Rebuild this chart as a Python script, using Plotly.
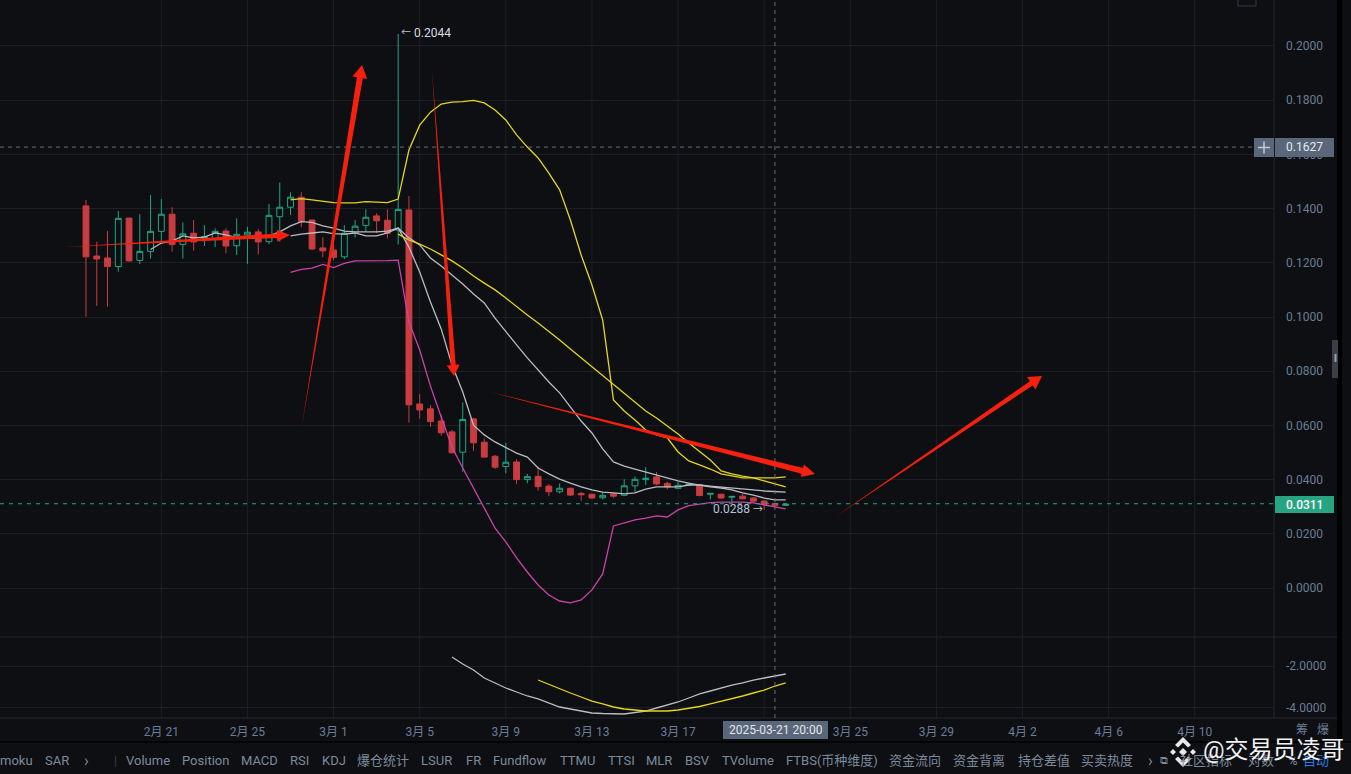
import math
import pandas as pd
import plotly.graph_objects as go

W, H = 1351, 774

# ---------- data ----------
dates = pd.date_range("2025-02-17 20:00", periods=66, freq="12h")

opens = [0.1410,0.1225,0.1218,0.1186,0.1365,0.1209,0.1242,0.1316,0.1379,0.1268,0.1309,0.1288,0.1290,0.1317,0.1263,0.1303,0.1314,0.1278,0.1370,0.1405,
         0.1442,0.1358,0.1255,0.1247,0.1222,0.1309,0.1338,0.1373,0.1357,0.1321,0.1395,0.0679,0.0661,0.0616,0.0576,0.0501,0.0624,0.0538,0.0486,0.0448,
         0.0465,0.0400,0.0412,0.0376,0.0355,0.0368,0.0349,0.0346,0.0333,0.0347,0.0342,0.0377,0.0400,0.0410,0.0386,0.0368,0.0380,0.0379,0.0346,0.0346,
         0.0335,0.0339,0.0332,0.0321,0.0312,0.0305]
closes = [0.1222,0.1214,0.1186,0.1364,0.1207,0.1242,0.1316,0.1379,0.1267,0.1307,0.1277,0.1297,0.1316,0.1262,0.1305,0.1313,0.1277,0.1375,0.1405,0.1442,
          0.1353,0.1251,0.1244,0.1220,0.1309,0.1335,0.1368,0.1355,0.1309,0.1397,0.0676,0.0657,0.0614,0.0573,0.0499,0.0622,0.0536,0.0483,0.0446,0.0464,
          0.0400,0.0411,0.0374,0.0355,0.0368,0.0343,0.0344,0.0332,0.0342,0.0339,0.0377,0.0401,0.0405,0.0384,0.0373,0.0379,0.0383,0.0341,0.0349,0.0332,
          0.0338,0.0329,0.0320,0.0309,0.0305,0.0309]
highs = [0.1432,0.1278,0.1317,0.1391,0.1365,0.1379,0.1450,0.1435,0.1405,0.1349,0.1358,0.1339,0.1327,0.1327,0.1364,0.1333,0.1324,0.1417,0.1496,0.1460,
         0.1460,0.1358,0.1294,0.1282,0.1339,0.1358,0.1397,0.1383,0.1397,0.2044,0.1446,0.0716,0.0675,0.0640,0.0583,0.0685,0.0628,0.0552,0.0491,0.0536,
         0.0475,0.0421,0.0448,0.0384,0.0386,0.0370,0.0355,0.0348,0.0353,0.0350,0.0401,0.0411,0.0446,0.0428,0.0392,0.0392,0.0386,0.0380,0.0350,0.0348,
         0.0339,0.0347,0.0335,0.0324,0.0315,0.0312]
lows = [0.1001,0.1041,0.1038,0.1167,0.1204,0.1196,0.1215,0.1278,0.1241,0.1215,0.1245,0.1262,0.1258,0.1235,0.1229,0.1196,0.1231,0.1269,0.1278,0.1376,
        0.1331,0.1247,0.1220,0.1210,0.1214,0.1293,0.1315,0.1309,0.1290,0.1267,0.0610,0.0625,0.0595,0.0562,0.0497,0.0429,0.0506,0.0481,0.0439,0.0423,
        0.0383,0.0386,0.0359,0.0339,0.0349,0.0339,0.0322,0.0330,0.0327,0.0332,0.0339,0.0355,0.0380,0.0380,0.0364,0.0366,0.0376,0.0339,0.0327,0.0330,
        0.0316,0.0328,0.0318,0.0288,0.0298,0.0303]

ma_short = [None]*6 + [0.1249,0.1273,0.1280,0.1299,0.1292,0.1295,0.1310,0.1303,0.1293,0.1292,0.1292,0.1299,0.1314,0.1336,0.1352,0.1349,0.1336,0.1328,
    0.1317,0.1314,0.1314,0.1314,0.1317,0.1328,0.1258,0.1166,0.1055,0.0956,0.0823,0.0723,0.0601,0.0565,0.0539,0.0517,0.0498,0.0483,0.0443,0.0421,
    0.0402,0.0387,0.0373,0.0362,0.0354,0.0351,0.0347,0.0351,0.0365,0.0373,0.0373,0.0373,0.0380,0.0380,0.0373,0.0369,0.0362,0.0351,0.0343,0.0332,0.0325,0.0325]
ma_long = [None]*19 + [0.1299,0.1306,0.1310,0.1314,0.1308,0.1306,0.1310,0.1299,0.1299,0.1310,0.1328,0.1292,0.1266,0.1218,0.1188,0.1155,0.1122,0.1085,
    0.1052,0.0996,0.0945,0.0897,0.0849,0.0804,0.0760,0.0720,0.0668,0.0616,0.0572,0.0513,0.0465,0.0450,0.0439,0.0428,0.0417,0.0406,0.0395,0.0387,
    0.0380,0.0376,0.0373,0.0369,0.0365,0.0362,0.0358,0.0356,0.0354]
band_upper = [None]*19 + [0.1432,0.1437,0.1432,0.1426,0.1422,0.1421,0.1421,0.1426,0.1424,0.1422,0.1435,0.1616,0.1708,0.1756,0.1786,0.1793,0.1795,0.1799,
    0.1790,0.1764,0.1727,0.1672,0.1627,0.1587,0.1531,0.1469,0.1358,0.1229,0.1118,0.0989,0.0694,0.0653,0.0620,0.0583,0.0565,0.0554,0.0502,0.0469,
    0.0454,0.0439,0.0421,0.0413,0.0406,0.0406,0.0406,0.0406,0.0410]
band_lower = [None]*19 + [0.1165,0.1176,0.1180,0.1194,0.1182,0.1198,0.1207,0.1207,0.1208,0.1208,0.1210,0.0982,0.0878,0.0745,0.0631,0.0520,0.0443,0.0369,
    0.0295,0.0221,0.0170,0.0111,0.0059,0.0011,-0.0026,-0.0048,-0.0055,-0.0044,-0.0007,0.0052,0.0229,0.0240,0.0251,0.0258,0.0266,0.0262,0.0288,0.0304,
    0.0310,0.0315,0.0317,0.0318,0.0317,0.0314,0.0306,0.0299,0.0292]
yellow_mid = [None]*29 + [0.1306,0.1284,0.1269,0.1251,0.1229,0.1207,0.1181,0.1151,0.1125,0.1100,0.1070,0.1037,0.1007,0.0978,0.0948,0.0915,0.0882,0.0849,
    0.0815,0.0782,0.0749,0.0716,0.0683,0.0653,0.0627,0.0598,0.0568,0.0535,0.0502,0.0472,0.0432,0.0421,0.0413,0.0406,0.0395,0.0384,0.0373]

sub_white = [None]*34 + [-1.566,-1.904,-2.193,-2.578,-2.819,-3.060,-3.253,-3.446,-3.590,-3.783,-3.976,-4.072,-4.169,-4.265,-4.289,-4.313,-4.313,-4.241,
    -4.169,-4.024,-3.880,-3.735,-3.542,-3.349,-3.205,-3.060,-2.916,-2.819,-2.675,-2.578,-2.482,-2.386]
sub_yellow = [None]*42 + [-2.675,-2.892,-3.108,-3.301,-3.494,-3.687,-3.831,-3.976,-4.072,-4.120,-4.169,-4.169,-4.169,-4.120,-4.048,-3.952,-3.831,-3.711,
    -3.590,-3.446,-3.301,-3.157,-2.964,-2.819]

x_tick_dates = ["2025-02-21 08:00","2025-02-25 08:00","2025-03-01 08:00","2025-03-05 08:00","2025-03-09 08:00","2025-03-13 08:00","2025-03-17 08:00",
                "2025-03-25 08:00","2025-03-29 08:00","2025-04-02 08:00","2025-04-06 08:00","2025-04-10 08:00"]
x_tick_labels = ["2月 21","2月 25","3月 1","3月 5","3月 9","3月 13","3月 17","3月 25","3月 29","4月 2","4月 6","4月 10"]
grid_dates = x_tick_dates + ["2025-03-21 08:00"]
y_ticks = [0.0,0.02,0.04,0.06,0.08,0.10,0.12,0.14,0.16,0.18,0.20]
y_labels = ["0.0000","0.0200","0.0400","0.0600","0.0800","0.1000","0.1200","0.1400","0.1600","0.1800","0.2000"]
sub_ticks = [-2,-4]
sub_labels = ["-2.0000","-4.0000"]

last_price = 0.0311
cross_price = 0.1627
cross_time = "2025-03-21 20:00"
high_price = 0.2044
low_price = 0.0288

toolbar = [("moku",0),("SAR",45),("Volume",126),("Position",182),("MACD",241),("RSI",290),("KDJ",322),("爆仓统计",357),("LSUR",421),("FR",466),
           ("Fundflow",493),("TTMU",560),("TTSI",608),("MLR",646),("BSV",685),("TVolume",722),("FTBS(币种维度)",786),("资金流向",889),("资金背离",953),
           ("持仓差值",1018),("买卖热度",1081),("社区指标",1180),("对数",1248),("%",1288)]

# (tail x, tail y, tip x, tip y, shaft width, head width, head length) in page pixels
arrows = [(65,247,290,235,4.5,12,13),
          (302,425,362,65,6,15,13),
          (432,70,454,376,5,13,11),
          (490,392,815,474,6,13,13),
          (835,517,1042,376,5,15,13)]

# ---------- style ----------
BG = "#0d0f12"; GRID = "#1c1f23"; AXIS = "#24272c"
GREEN = "#21a586"; RED = "#c93c40"; TXT = "#6c7d99"; TOOL = "#7e8a9c"
WHITE_LINE = "#b9bcc1"; YELLOW = "#e6d51f"; MAGENTA = "#cc42a8"
FONT = "Roboto, 'Noto Sans CJK SC', sans-serif"
PLOT_R = 1274
MAIN_BOTTOM, SUB_BOTTOM = 637, 718

def px(x): return x / W
def py(y): return 1 - y / H

fig = go.Figure()
fig.add_trace(go.Candlestick(x=dates, open=opens, high=highs, low=lows, close=closes, whiskerwidth=0,
    increasing=dict(line=dict(color=GREEN, width=1), fillcolor=BG),
    decreasing=dict(line=dict(color=RED, width=1), fillcolor=RED), hoverinfo="skip", xaxis="x", yaxis="y"))
for name, vals, col in [("MA", ma_short, WHITE_LINE), ("MA long", ma_long, WHITE_LINE), ("Upper", band_upper, YELLOW),
                        ("Lower", band_lower, MAGENTA), ("Mid", yellow_mid, YELLOW)]:
    fig.add_trace(go.Scatter(x=dates, y=vals, mode="lines", name=name, line=dict(color=col, width=1.3), hoverinfo="skip", xaxis="x", yaxis="y"))
for name, vals, col in [("DIF", sub_white, WHITE_LINE), ("DEA", sub_yellow, YELLOW)]:
    fig.add_trace(go.Scatter(x=dates, y=vals, mode="lines", name=name, line=dict(color=col, width=1.3), hoverinfo="skip", xaxis="x", yaxis="y2"))

shapes = []
def rect(x0, y0, x1, y1, fill, layer="above"):
    shapes.append(dict(type="rect", xref="paper", yref="paper", x0=px(x0), x1=px(x1), y0=py(y0), y1=py(y1),
                       fillcolor=fill, line=dict(width=0), layer=layer))
def hline(y, x0, x1, col, dash="solid", w=1):
    shapes.append(dict(type="line", xref="paper", yref="paper", x0=px(x0), x1=px(x1), y0=py(y), y1=py(y),
                       line=dict(color=col, width=w, dash=dash), layer="above"))
def poly(pts, fill):
    path = "M " + " L ".join(f"{px(a):.5f} {py(b):.5f}" for a, b in pts) + " Z"
    shapes.append(dict(type="path", xref="paper", yref="paper", path=path, fillcolor=fill, line=dict(width=0), layer="above"))

# panel frames
hline(MAIN_BOTTOM, 0, W - 14, AXIS)
hline(SUB_BOTTOM, 0, W - 14, AXIS)
hline(742, 0, W, "#050506", w=2)
shapes.append(dict(type="line", xref="paper", yref="paper", x0=px(PLOT_R), x1=px(PLOT_R), y0=py(0), y1=py(SUB_BOTTOM),
                   line=dict(color=AXIS, width=1), layer="above"))
rect(1337, 0, 1342, 742, "#000000")
rect(1332, 340, 1338, 378, "#3a3f47")
rect(1334.5, 354, 1336.5, 362, "#9aa0a8")
shapes.append(dict(type="rect", xref="paper", yref="paper", x0=px(1238), x1=px(1256), y0=py(6), y1=py(-2),
                   line=dict(color="#2c3a55", width=1), fillcolor="rgba(0,0,0,0)", layer="above"))

# crosshair and last price
shapes.append(dict(type="line", xref="x", yref="paper", x0=cross_time, x1=cross_time, y0=py(SUB_BOTTOM), y1=1,
                   line=dict(color="#6a6e74", width=1, dash="4px,4px"), layer="above"))
shapes.append(dict(type="line", xref="paper", yref="y", x0=0, x1=px(1254), y0=cross_price, y1=cross_price,
                   line=dict(color="#6a6e74", width=1, dash="4px,4px"), layer="above"))
shapes.append(dict(type="line", xref="paper", yref="y", x0=0, x1=px(1274), y0=last_price, y1=last_price,
                   line=dict(color=GREEN, width=1, dash="4px,5px"), layer="above"))
rect(1254, 138, 1274, 157, "#5a6679")
rect(1275, 138, 1334, 157, "#5a6679")
rect(1275, 496, 1334, 513, "#27a583")
rect(723, 721, 828, 739, "#5a6679")
# plus icon
hline(147.5, 1258, 1270, "#c6cbd3", w=1.5)
shapes.append(dict(type="line", xref="paper", yref="paper", x0=px(1264), x1=px(1264), y0=py(141.5), y1=py(153.5),
                   line=dict(color="#c6cbd3", width=1.5), layer="above"))

# red arrows
for x0, y0, x1, y1, ws, wh, hl in arrows:
    L = math.hypot(x1 - x0, y1 - y0)
    ux, uy = (x1 - x0) / L, (y1 - y0) / L
    nx, ny = -uy, ux
    bx, by = x1 - ux * hl, y1 - uy * hl
    poly([(x0, y0), (bx + nx * ws / 2, by + ny * ws / 2), (bx + nx * wh / 2, by + ny * wh / 2), (x1, y1),
          (bx - nx * wh / 2, by - ny * wh / 2), (bx - nx * ws / 2, by - ny * ws / 2)], "#f5200f")

# logo
LOGO = "#e8e8e8"
cx, cy = 1183, 752
def dia(x, y, r): poly([(x, y - r), (x + r, y), (x, y + r), (x - r, y)], LOGO)
dia(cx, cy, 4); dia(cx - 10, cy, 3); dia(cx + 10, cy, 3)
poly([(cx, cy - 15), (cx + 8, cy - 7), (cx + 5, cy - 4.5), (cx, cy - 9.5), (cx - 5, cy - 4.5), (cx - 8, cy - 7)], LOGO)
poly([(cx, cy + 15), (cx + 8, cy + 7), (cx + 5, cy + 4.5), (cx, cy + 9.5), (cx - 5, cy + 4.5), (cx - 8, cy + 7)], LOGO)

anns = []
def text(x, y, s, col=TOOL, size=13, anchor="left", weight=None):
    f = dict(family=FONT, size=size, color=col)
    if weight: f["weight"] = weight
    dx = -2 if anchor == "left" else 0
    anns.append(dict(xref="paper", yref="paper", x=px(x + dx), y=py(y), text=s, showarrow=False, xanchor=anchor, yanchor="middle", font=f))

for s, x in toolbar:
    text(x, 760, s)
text(84, 760, "›", size=16); text(1148, 760, "›", size=16); text(114, 760, "|", col="#3a3f47")
text(1160, 760, "⧉", size=11)
text(1303, 760, "自动", col="#2a7be4")
text(1203, 750, "@交易员凌哥", col="#f2f2f2", size=24)
text(1296, 730, "筹", col=TXT, size=12); text(1317, 730, "爆", col=TXT, size=12)
text(775.5, 730, cross_time, col="#e2e5ea", size=12, anchor="center")
text(1304.5, 147, f"{cross_price:.4f}", col="#e8eaee", size=12, anchor="center")
text(1304.5, 504.5, f"{last_price:.4f}", col="#ffffff", size=12, anchor="center", weight=500)
text(401, 33, "←", col="#b8bec8", size=10)
text(414, 33, f"{high_price:.4f}", col="#d6dbe4", size=12)
text(713, 509, f"{low_price:.4f}", col="#b6c6da", size=12)
text(753, 509, "→", col="#b8bec8", size=10)

fig.update_layout(
    width=W, height=H, margin=dict(l=0, r=0, t=0, b=0), showlegend=False, paper_bgcolor=BG, plot_bgcolor=BG,
    boxgap=0.22, shapes=shapes, annotations=anns, hovermode=False, font=dict(family=FONT, color=TXT, size=12),
    xaxis=dict(domain=[0, PLOT_R / W], range=["2025-02-13 20:09", "2025-04-14 00:20"], type="date", anchor="y2",
               tickmode="array", tickvals=x_tick_dates, ticktext=x_tick_labels, showgrid=False, zeroline=False, showline=False,
               ticks="", rangeslider=dict(visible=False), tickfont=dict(family=FONT, size=12, color=TXT), ticklabelstandoff=5),
    yaxis=dict(domain=[py(MAIN_BOTTOM), 1], range=[-0.01808, 0.21697], side="right", anchor="x", tickmode="array",
               tickvals=y_ticks, ticktext=y_labels, showgrid=True, gridcolor=GRID, gridwidth=1, zeroline=False, ticks="", showline=False,
               tickfont=dict(family=FONT, size=12, color=TXT), ticklabelstandoff=11),
    yaxis2=dict(domain=[py(SUB_BOTTOM), py(MAIN_BOTTOM + 1)], range=[-4 - 10.5/20.75, -2 + 28/20.75], side="right", anchor="x", tickmode="array",
                tickvals=sub_ticks, ticktext=sub_labels, showgrid=True, gridcolor=GRID, zeroline=False, ticks="", showline=False,
                tickfont=dict(family=FONT, size=12, color=TXT), ticklabelstandoff=11),
)
# vertical grid lines behind the marks, across both panes
for d in grid_dates:
    for a, b in [(py(MAIN_BOTTOM), 1), (py(SUB_BOTTOM), py(MAIN_BOTTOM + 1))]:
        fig.add_shape(type="line", xref="x", yref="paper", x0=d, x1=d, y0=a, y1=b, line=dict(color=GRID, width=1), layer="below")

fig.write_html("out.html", config=dict(displayModeBar=False),
               post_script="document.body.style.margin='0';document.body.style.background='%s';" % BG)
